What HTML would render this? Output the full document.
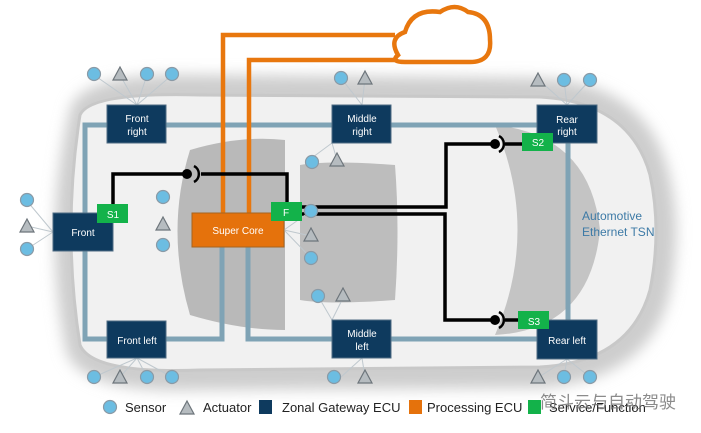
<!DOCTYPE html>
<html><head><style>body{margin:0;background:#fff}svg{display:block}text{font-family:"Liberation Sans",sans-serif}</style></head><body>
<svg width="701" height="433" viewBox="0 0 701 433" xmlns="http://www.w3.org/2000/svg">
<defs>
<filter id="bl"><feGaussianBlur stdDeviation="7"/></filter>
<g id="c"><circle r="6.5" fill="#6cbde2" stroke="#8a9aa6" stroke-width="1.2"/></g>
<g id="t"><polygon points="0,-7 7,6 -7,6" fill="#b6bcc0" stroke="#6d757b" stroke-width="1.2"/></g>
</defs>
<!-- car body -->
<path d="M70 110 Q80 72 200 75 L540 78 Q645 83 668 170 Q684 230 668 300 Q645 380 540 388 L200 390 Q78 394 66 350 Q42 230 70 110Z" fill="#cdcdcd" filter="url(#bl)"/>
<path d="M80 115 Q90 92 200 95 L540 97 Q630 102 650 175 Q662 230 650 290 Q630 362 540 367 L200 370 Q92 374 80 345 Q62 230 80 115Z" fill="#f1f1f1" stroke="#c8c8c8" stroke-width="3"/>
<path d="M190 150 Q240 135 285 140 L285 330 Q240 330 190 315 Q165 230 190 150Z" fill="#b9b9b9"/>
<path d="M300 165 Q330 160 395 165 Q400 230 395 300 Q330 305 300 300Z" fill="#bdbdbd"/>
<path d="M495 125 Q590 135 600 230 Q590 330 495 335 Q540 230 495 125Z" fill="#c4c4c4"/>
<!-- teal network -->
<g fill="none" stroke="#7fa3b5" stroke-width="5">
<path d="M222 247 V339 H85 V125 H565"/>
<path d="M248 247 V339 H565"/>
<path d="M568 143 V320"/>
</g>
<!-- orange -->
<g fill="none" stroke="#e8770e" stroke-width="4.5">
<path d="M223 213 V35 H395"/>
<path d="M249 213 V60 H395"/>
<path d="M398 55 Q388 38 405 32 Q412 8 440 12 Q455 2 468 12 Q490 14 490 40 Q492 62 470 62 L405 62 Q390 62 398 55Z" fill="#fff"/>
</g>
<!-- black -->
<g fill="none" stroke="#000" stroke-width="3.5">
<path d="M113 205 V174 H186"/>
<path d="M201 174 H287 V203"/>
<path d="M302 207 H446 V144 H492"/>
<path d="M302 214 H445 V320 H492"/>
<path d="M505 144 H522"/><path d="M505 320 H518"/>
<path d="M194 166 A9 9 0 0 1 194 182" stroke-width="2.5"/>
<path d="M499 136 A9 9 0 0 1 499 152" stroke-width="2.5"/>
<path d="M499 312 A9 9 0 0 1 499 328" stroke-width="2.5"/>
</g>
<circle cx="187" cy="174" r="5" fill="#000"/><circle cx="495" cy="144" r="5" fill="#000"/><circle cx="495" cy="320" r="5" fill="#000"/>
<!-- sensor spokes -->
<g stroke="#bfc8ce" stroke-width="1">
<path d="M137 105 L94 75 M137 105 L120 75 M137 105 L147 75 M137 105 L172 75"/>
<path d="M53 232 L27 201 M53 232 L27 226 M53 232 L27 249"/>
<path d="M137 358 L94 377 M137 358 L120 377 M137 358 L147 377 M137 358 L172 377"/>
<path d="M362 105 L341 78 M362 105 L365 78 M332 143 L309 160 M332 143 L337 160"/>
<path d="M284 230 L311 211 M284 230 L311 236 M284 230 L311 258"/>
<path d="M332 320 L318 296 M332 320 L344 296 M362 358 L341 377 M362 358 L365 377"/>
<path d="M567 105 L539 80 M567 105 L564 80 M567 105 L590 80"/>
<path d="M567 359 L539 377 M567 359 L564 377 M567 359 L590 377"/>
</g>
<use href="#c" x="94" y="74"/><use href="#t" x="120" y="74"/><use href="#c" x="147" y="74"/><use href="#c" x="172" y="74"/>
<use href="#c" x="27" y="200"/><use href="#t" x="27" y="226"/><use href="#c" x="27" y="249"/>
<use href="#c" x="163" y="197"/><use href="#t" x="163" y="224"/><use href="#c" x="163" y="245"/>
<use href="#c" x="94" y="377"/><use href="#t" x="120" y="377"/><use href="#c" x="147" y="377"/><use href="#c" x="172" y="377"/>
<use href="#c" x="341" y="78"/><use href="#t" x="365" y="78"/><use href="#c" x="312" y="162"/><use href="#t" x="337" y="160"/>
<use href="#c" x="311" y="211"/><use href="#t" x="311" y="235"/><use href="#c" x="311" y="258"/>
<use href="#c" x="318" y="296"/><use href="#t" x="343" y="295"/>
<use href="#c" x="334" y="377"/><use href="#t" x="365" y="377"/>
<use href="#t" x="538" y="80"/><use href="#c" x="564" y="80"/><use href="#c" x="590" y="80"/>
<use href="#t" x="538" y="377"/><use href="#c" x="564" y="377"/><use href="#c" x="590" y="377"/>
<!-- nodes -->
<g fill="#0e3a5e" stroke="#4f6c84" stroke-width="1">
<rect x="107" y="105" width="59" height="38"/><rect x="53" y="213" width="60" height="38"/><rect x="107" y="321" width="59" height="37"/>
<rect x="332" y="105" width="59" height="38"/><rect x="332" y="320" width="59" height="38"/>
<rect x="537" y="105" width="60" height="38"/><rect x="537" y="320" width="60" height="39"/>
</g>
<rect x="192" y="213" width="92" height="34" fill="#e5720c" stroke="#a8641e"/>
<g fill="#13b24a"><rect x="271" y="202" width="31" height="19"/><rect x="97" y="204" width="31" height="19"/><rect x="522" y="133" width="31" height="18"/><rect x="518" y="311" width="31" height="18"/></g>
<g fill="#fff" font-size="10" text-anchor="middle">
<text x="137" y="122">Front</text><text x="137" y="135">right</text>
<text x="83" y="236">Front</text><text x="137" y="344">Front left</text>
<text x="362" y="122">Middle</text><text x="362" y="135">right</text>
<text x="362" y="337">Middle</text><text x="362" y="350">left</text>
<text x="567" y="123">Rear</text><text x="567" y="135">right</text>
<text x="567" y="344">Rear left</text>
<text x="238" y="234">Super Core</text>
<text x="286" y="216">F</text><text x="113" y="218">S1</text><text x="538" y="146">S2</text><text x="534" y="325">S3</text>
</g>
<text x="582" y="220" font-size="12" fill="#3d7aa6">Automotive</text>
<text x="582" y="236" font-size="12" fill="#3d7aa6">Ethernet TSN</text>
<!-- legend -->
<use href="#c" x="110" y="407"/><text x="125" y="412" font-size="13" fill="#222">Sensor</text>
<use href="#t" x="187" y="408"/><text x="203" y="412" font-size="13" fill="#222">Actuator</text>
<rect x="259" y="400" width="13" height="14" fill="#0e3a5e"/><text x="282" y="412" font-size="13" fill="#222">Zonal Gateway ECU</text>
<rect x="409" y="400" width="13" height="14" fill="#e5720c"/><text x="427" y="412" font-size="13" fill="#222">Processing ECU</text>
<rect x="528" y="400" width="13" height="14" fill="#13b24a"/><text x="549" y="412" font-size="13" fill="#222">Service/Function</text>
<text x="540" y="408" font-size="17" fill="#777" style="font-family:'Liberation Sans','Noto Sans CJK SC',sans-serif" opacity="0.85">简斗云与自动驾驶</text>
</svg>
</body></html>
